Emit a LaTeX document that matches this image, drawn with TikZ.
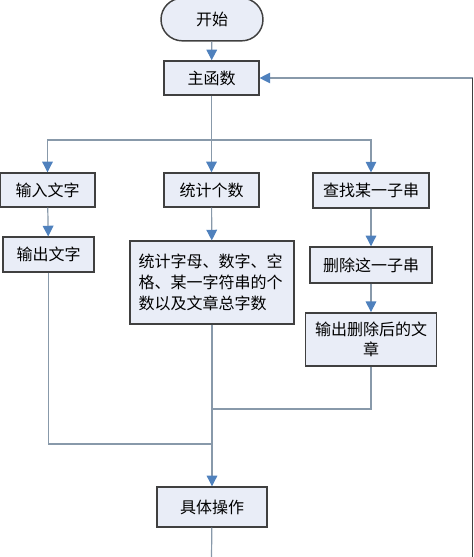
\documentclass[tikz,border=0pt]{standalone}
\usepackage{fontspec}
\newfontfamily\cjk{Noto Sans CJK SC}
\usetikzlibrary{arrows.meta}
\definecolor{boxfill}{RGB}{233,237,247}
\definecolor{boxline}{RGB}{64,64,64}
\definecolor{flowline}{RGB}{136,153,170}
\definecolor{tipblue}{RGB}{79,129,189}
\begin{document}
\begin{tikzpicture}[x=0.75pt,y=0.75pt,yscale=-1,xscale=1,
    box/.style={draw=boxline,fill=boxfill,line width=1.1pt,inner sep=2pt,
        font=\cjk\fontsize{12}{15.5}\selectfont},
    flow/.style={draw=flowline,line width=0.9pt},
    arr/.style={flow,-{Triangle[width=8pt,length=8pt,color=tipblue]}}]
        \useasboundingbox (0,0) rectangle (474,557);
        % Nodes
        \node [box,rounded corners=16pt,minimum width=76.5pt,minimum height=32pt] (start) at (212,19.5) {开始};
        \node [box,minimum width=71pt,minimum height=25.5pt] (main) at (211.5,78) {主函数};
        \node [box,minimum width=71pt,minimum height=25.5pt] (input) at (47.5,190) {输入文字};
        \node [box,minimum width=71pt,minimum height=25.5pt] (count) at (211.5,190) {统计个数};
        \node [box,minimum width=87pt,minimum height=26pt] (search) at (371,190.5) {查找某一子串};
        \node [box,minimum width=68pt,minimum height=26pt] (output) at (48.5,254.5) {输出文字};
        \node [box,minimum width=123pt,minimum height=62pt,text width=110pt,align=left] (stats) at (212,282.5) {统计字母、数字、空\\格、某一字符串的个\\数以及文章总字数};
        \node [box,minimum width=91.5pt,minimum height=27pt] (delete) at (371,265) {删除这一子串};
        \node [box,minimum width=98pt,minimum height=40pt,align=center] (result) at (371,339.5) {输出删除后的文\\章};
        \node [box,minimum width=82.5pt,minimum height=30pt] (operate) at (212,507) {具体操作};
        % Joints
        \coordinate (split) at (211.5,140);
        \coordinate (joinR) at (211.5,409);
        \coordinate (joinL) at (211.5,444);
        \coordinate (exit) at (211.5,560);
        \coordinate (loopTop) at (472.5,78);
        \coordinate (loopBot) at (472.5,560);
        % Connectors
        \draw [arr] (start) -- (main);
        \draw [arr] (main) -- (count);
        \draw [arr] (split) -| (input.north);
        \draw [arr] (split) -| (search.north);
        \draw [arr] (input) -- (output);
        \draw [arr] (count) -- (stats);
        \draw [arr] (search) -- (delete);
        \draw [arr] (delete) -- (result);
        \draw [flow] (output) |- (joinL);
        \draw [flow] (result) |- (joinR);
        \draw [arr] (stats) -- (operate);
        \draw [flow] (operate) -- (exit);
        \draw [arr] (loopTop) -- (main);
        \draw [draw=boxline,line width=1.4pt] (loopTop) -- (loopBot);
\end{tikzpicture}
\end{document}
